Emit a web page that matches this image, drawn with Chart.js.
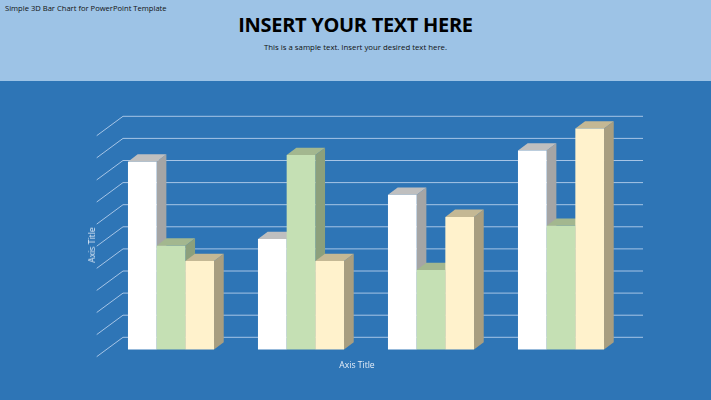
<!DOCTYPE html>
<html lang="en">
<head>
    <meta charset="UTF-8">
    <title>Simple 3D Bar Chart</title>
    <style>
        html, body {
            margin: 0;
            padding: 0;
            width: 711px;
            height: 400px;
            overflow: hidden;
            background: #2E75B6;
            font-family: "Open Sans", Arial, sans-serif;
        }
        .header {
            position: absolute;
            left: 0; top: 0;
            width: 711px; height: 81px;
            background: #9DC3E6;
        }
        .small-title {
            position: absolute;
            left: 5px; top: 3px;
            font-size: 7.6px;
            color: #111;
        }
        .main-title {
            position: absolute;
            left: 0; top: 11px;
            width: 711px;
            text-align: center;
            font-size: 20px;
            font-weight: bold;
            color: #000;
            letter-spacing: -0.3px;
        }
        .sub-title {
            position: absolute;
            left: 0; top: 42px;
            width: 711px;
            text-align: center;
            font-size: 7.8px;
            color: #111;
        }
        #chart {
            position: absolute;
            left: 0; top: 0;
        }
        .axis-title {
            position: absolute;
            font-size: 8.6px;
            color: #E6EEF8;
            white-space: nowrap;
        }
        .y-title {
            left: 92px; top: 245px;
            transform: translate(-50%, -50%) rotate(-90deg);
        }
        .x-title {
            left: 357px; top: 365px;
            transform: translate(-50%, -50%);
        }
    </style>
</head>
<body>
<div class="header">
    <div class="small-title">Simple 3D Bar Chart for PowerPoint Template</div>
    <div class="main-title">INSERT YOUR TEXT HERE</div>
    <div class="sub-title">This is a sample text. Insert your desired text here.</div>
</div>
<canvas id="chart" width="711" height="400"></canvas>
<div class="axis-title y-title">Axis Title</div>
<div class="axis-title x-title">Axis Title</div>

<script src="https://cdn.jsdelivr.net/npm/chart.js"></script>
<script>
// chart data
const categories = ['Category 1', 'Category 2', 'Category 3', 'Category 4'];
const series1 = [8.5, 5.0, 7.0, 9.0];
const series2 = [4.7, 8.8, 3.6, 5.6];
const series3 = [4.0, 4.0, 6.0, 10.0];
const gridTicks = [0, 1, 2, 3, 4, 5, 6, 7, 8, 9, 10];

// colours: front, top, side
const faceColors = [
    ['#FFFFFF', '#BFBFBF', '#A5A5A5'],
    ['#C5E0B4', '#A3B78F', '#8CA07C'],
    ['#FFF2CC', '#C4B894', '#A89E80']
];

// 3D offsets
const BAR_DX = 9.7, BAR_DY = 7.3;      // bar depth
const WALL_DX = 17, WALL_DY = 12.2;    // bar plane -> back wall
const FLOOR_DX = 26.3, FLOOR_DY = 19.4; // full floor depth

function poly(ctx, pts, color) {
    ctx.fillStyle = color;
    ctx.beginPath();
    ctx.moveTo(pts[0][0], pts[0][1]);
    for (let i = 1; i < pts.length; i++) ctx.lineTo(pts[i][0], pts[i][1]);
    ctx.closePath();
    ctx.fill();
}

const threeD = {
    id: 'threeD',
    beforeDatasetsDraw(chart) {
        const ctx = chart.ctx;
        const area = chart.chartArea;
        const y = chart.scales.y;
        ctx.save();
        ctx.strokeStyle = '#A7C5E6';
        ctx.lineWidth = 1;
        gridTicks.forEach(v => {
            const yb = y.getPixelForValue(v) - WALL_DY;
            const xb = area.left + WALL_DX;
            ctx.beginPath();
            ctx.moveTo(xb - FLOOR_DX, yb + FLOOR_DY);
            ctx.lineTo(xb, yb);
            ctx.lineTo(area.right + WALL_DX, yb);
            ctx.stroke();
        });
        ctx.restore();
    },
    // Chart.js paints dataset 0 last, so the boxes are painted here, left to right
    afterDatasetsDraw(chart) {
        const ctx = chart.ctx;
        ctx.save();
        chart.data.datasets.forEach((ds, i) => {
            const cols = faceColors[i];
            chart.getDatasetMeta(i).data.forEach(bar => {
                const x0 = bar.x - bar.width / 2;
                const x1 = bar.x + bar.width / 2;
                const yt = bar.y, y0 = bar.base;
                poly(ctx, [[x1, yt], [x1 + BAR_DX, yt - BAR_DY], [x1 + BAR_DX, y0 - BAR_DY], [x1, y0]], cols[2]);
                poly(ctx, [[x0, yt], [x1, yt], [x1 + BAR_DX, yt - BAR_DY], [x0 + BAR_DX, yt - BAR_DY]], cols[1]);
                poly(ctx, [[x0, yt], [x1, yt], [x1, y0], [x0, y0]], cols[0]);
            });
        });
        ctx.restore();
    }
};

new Chart(document.getElementById('chart'), {
    type: 'bar',
    data: {
        labels: categories,
        datasets: [
            { label: 'Series 1', data: series1, backgroundColor: 'rgba(0,0,0,0)' },
            { label: 'Series 2', data: series2, backgroundColor: 'rgba(0,0,0,0)' },
            { label: 'Series 3', data: series3, backgroundColor: 'rgba(0,0,0,0)' }
        ]
    },
    options: {
        responsive: false,
        animation: false,
        devicePixelRatio: 1,
        layout: { padding: { left: 106, right: 85, top: 128.5, bottom: 50.5 } },
        categoryPercentage: 0.662,
        barPercentage: 1,
        plugins: {
            legend: { display: false },
            tooltip: { enabled: false }
        },
        scales: {
            x: { display: false },
            y: { display: false, min: 0, max: 10 }
        }
    },
    plugins: [threeD]
});
</script>
</body>
</html>
